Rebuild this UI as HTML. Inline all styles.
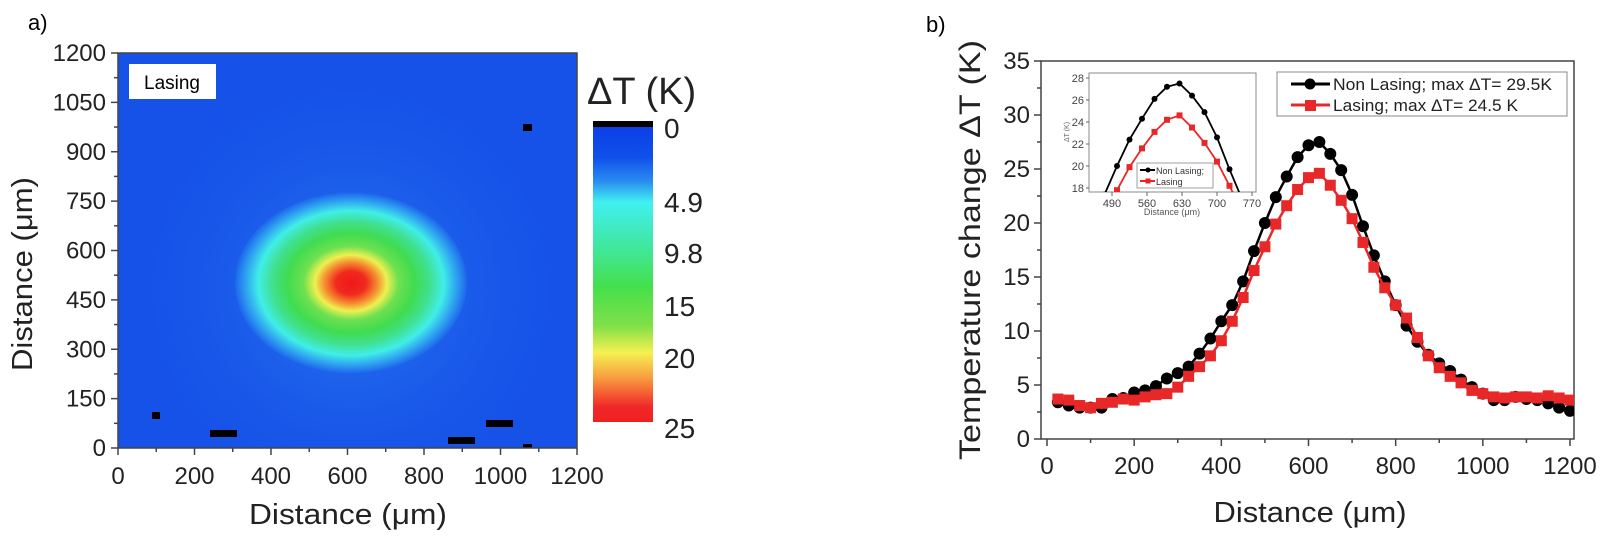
<!DOCTYPE html>
<html><head><meta charset="utf-8">
<style>
html,body{margin:0;padding:0;background:#fff;}
svg{display:block;font-family:"Liberation Sans",Arial,sans-serif;}
</style></head>
<body>
<svg id="s" width="1604" height="537" viewBox="0 0 1604 537" xmlns="http://www.w3.org/2000/svg">
<defs>
<radialGradient id="spot" cx="351" cy="283" r="116" gradientUnits="userSpaceOnUse" gradientTransform="translate(351 283) scale(1 0.78) translate(-351 -283)">
<stop offset="0" stop-color="#f01818"/>
<stop offset="0.13" stop-color="#f02a1e"/>
<stop offset="0.23" stop-color="#f59030"/>
<stop offset="0.31" stop-color="#eef050"/>
<stop offset="0.41" stop-color="#6ee050"/>
<stop offset="0.55" stop-color="#40dc50"/>
<stop offset="0.68" stop-color="#40e090"/>
<stop offset="0.8" stop-color="#40eee8"/>
<stop offset="0.9" stop-color="#30a8f0"/>
<stop offset="1" stop-color="#1e66ec"/>
<stop offset="1" stop-color="#1e66ec" stop-opacity="0"/>
</radialGradient>
<radialGradient id="halo" cx="351" cy="290" r="230" gradientUnits="userSpaceOnUse">
<stop offset="0" stop-color="#2a7cf0"/>
<stop offset="1" stop-color="#1650e8" stop-opacity="0"/>
</radialGradient>
<linearGradient id="cb" x1="0" y1="0" x2="0" y2="1">
<stop offset="0" stop-color="#0a3ce6"/>
<stop offset="0.12" stop-color="#1050ea"/>
<stop offset="0.2" stop-color="#2a8cf0"/>
<stop offset="0.27" stop-color="#40f0f0"/>
<stop offset="0.4" stop-color="#40e8a8"/>
<stop offset="0.55" stop-color="#44e04c"/>
<stop offset="0.68" stop-color="#80e048"/>
<stop offset="0.77" stop-color="#f5f050"/>
<stop offset="0.85" stop-color="#f8a040"/>
<stop offset="0.95" stop-color="#f02828"/>
<stop offset="1" stop-color="#f02020"/>
</linearGradient>
<clipPath id="inclip"><rect x="1089" y="73" width="167" height="119"/></clipPath>
<clipPath id="mainclip"><rect x="1041" y="61" width="533" height="378"/></clipPath>
</defs>

<text x="28" y="30" font-size="22">a)</text>
<rect x="118" y="53" width="459" height="395" fill="#1652e8"/>
<rect x="118" y="53" width="459" height="395" fill="url(#halo)"/>
<ellipse cx="351" cy="283" rx="116" ry="91" fill="url(#spot)"/>
<g fill="#000">
<rect x="152" y="412" width="8" height="7"/>
<rect x="210" y="430" width="27" height="7"/>
<rect x="523" y="124" width="9" height="7"/>
<rect x="486" y="420" width="27" height="7"/>
<rect x="448" y="437" width="27" height="7"/>
<rect x="523" y="444" width="9" height="4"/>
</g>
<rect x="118" y="53" width="459" height="395" fill="none" stroke="#444" stroke-width="1.5"/>
<rect x="129" y="64" width="87" height="35" fill="#fff"/>
<text x="172" y="89" font-size="19" text-anchor="middle">Lasing</text>
<g id="axa" stroke="#444" stroke-width="1.5"></g>
<g id="axal" font-size="24" fill="#222"></g>
<text transform="translate(32,274) rotate(-90)" font-size="29" text-anchor="middle" textLength="194" lengthAdjust="spacingAndGlyphs" fill="#222">Distance (μm)</text>
<text x="348" y="524" font-size="29" text-anchor="middle" textLength="198" lengthAdjust="spacingAndGlyphs" fill="#222">Distance (μm)</text>
<text x="587" y="104" font-size="38" fill="#222">ΔT (K)</text>
<rect x="593" y="121" width="60" height="301" fill="url(#cb)"/>
<rect x="593" y="121" width="60" height="6" fill="#000"/>
<g font-size="28" fill="#222">
<text x="664" y="138">0</text>
<text x="664" y="212">4.9</text>
<text x="664" y="263">9.8</text>
<text x="664" y="316">15</text>
<text x="664" y="368">20</text>
<text x="664" y="438">25</text>
</g>

<text x="926" y="32" font-size="22">b)</text>
<rect x="1041" y="61" width="533" height="378" fill="none" stroke="#444" stroke-width="1.5"/>
<g id="axb" stroke="#444" stroke-width="1.5"></g>
<g id="axbl" font-size="24" fill="#222"></g>
<text transform="translate(980,250) rotate(-90)" font-size="30" text-anchor="middle" textLength="420" lengthAdjust="spacingAndGlyphs" fill="#222">Temperature change ΔT (K)</text>
<text x="1310" y="522" font-size="29" text-anchor="middle" textLength="193" lengthAdjust="spacingAndGlyphs" fill="#222">Distance (μm)</text>
<g id="main" clip-path="url(#mainclip)"></g>

<rect x="1089" y="73" width="167" height="119" fill="#fff" stroke="#888" stroke-width="1"/>
<g id="inset" clip-path="url(#inclip)"></g>
<g id="inax" stroke="#666" stroke-width="1"></g>
<g id="inaxl" font-size="11" fill="#444"></g>
<text transform="translate(1069,132) rotate(-90)" font-size="7" text-anchor="middle" fill="#666">ΔT (K)</text>
<text x="1172" y="215" font-size="9" text-anchor="middle" fill="#555">Distance (μm)</text>
<rect x="1137" y="163" width="76" height="25" fill="#fff" stroke="#888" stroke-width="0.8"/>
<line x1="1140" y1="170" x2="1155" y2="170" stroke="#000" stroke-width="2"/><circle cx="1148" cy="170" r="2.5"/>
<line x1="1140" y1="181" x2="1155" y2="181" stroke="#e22" stroke-width="2"/><rect x="1145.5" y="178.5" width="5" height="5" fill="#e22"/>
<text x="1156" y="174" font-size="9" fill="#333">Non Lasing;</text>
<text x="1156" y="185" font-size="9" fill="#333">Lasing</text>

<rect x="1277" y="72" width="290" height="44" fill="#fff" stroke="#888" stroke-width="1"/>
<line x1="1291" y1="84" x2="1330" y2="84" stroke="#000" stroke-width="3"/><circle cx="1310" cy="84" r="5.5"/>
<line x1="1291" y1="105" x2="1330" y2="105" stroke="#e82828" stroke-width="3"/><rect x="1305" y="100" width="11" height="11" fill="#e82828"/>
<text x="1333" y="90" font-size="17" fill="#222" textLength="219" lengthAdjust="spacingAndGlyphs">Non Lasing;  max ΔT= 29.5K</text>
<text x="1333" y="111" font-size="17" fill="#222" textLength="185" lengthAdjust="spacingAndGlyphs">Lasing;  max ΔT= 24.5 K</text>
</svg>
<script>
const NS="http://www.w3.org/2000/svg";
function el(p,t,a,txt){const e=document.createElementNS(NS,t);for(const k in a)e.setAttribute(k,a[k]);if(txt!==undefined)e.textContent=txt;document.getElementById(p).appendChild(e);return e;}
for(let v=0;v<=1200;v+=100){const x=118+v*459/1200;el("axa","line",{x1:x,y1:448,x2:x,y2:v%200?452:455});if(v%200==0)el("axal","text",{x:x,y:484,"text-anchor":"middle"},v);}
for(let v=0;v<=1200;v+=75){const y=448-v*395/1200;el("axa","line",{x1:118,y1:y,x2:v%150?114:111,y2:y});if(v%150==0)el("axal","text",{x:106,y:y+8,"text-anchor":"end"},v);}
const X=v=>1047+v*0.43583,Y=t=>439-t*10.8;
for(let v=0;v<=1200;v+=100){const x=X(v);el("axb","line",{x1:x,y1:439,x2:x,y2:v%200?443:446});if(v%200==0)el("axbl","text",{x:x,y:474,"text-anchor":"middle"},v);}
for(let t=0;t<=35;t+=2.5){const y=Y(t);el("axb","line",{x1:1041,y1:y,x2:t%5?1037:1034,y2:y});if(t%5==0)el("axbl","text",{x:1030,y:y+8,"text-anchor":"end"},t);}
const xs=[];for(let v=25;v<=1200;v+=25)xs.push(v);
const B={25:3.4,50:3.1,75:2.9,100:2.9,125:2.9,150:3.7,175:3.8,200:4.3,225:4.5,250:4.9,275:5.6,300:6.1,325:6.7,350:7.9,375:9.3,400:10.9,425:12.4,450:14.6,475:17.4,500:20,525:22.4,550:24.3,575:26.1,600:27.2,625:27.5,650:26.4,675:24.9,700:22.6,725:19.7,750:17,775:14.6,800:12.4,825:10.5,850:9,875:7.8,900:7,925:6.3,950:5.5,975:4.8,1000:4.2,1025:3.6,1050:3.6,1075:3.9,1100:3.7,1125:3.6,1150:3.3,1175:2.9,1200:2.6};
const R={25:3.7,50:3.6,75:3.1,100:2.9,125:3.3,150:3.4,175:3.7,200:3.6,225:3.9,250:4.1,275:4.2,300:4.8,325:5.8,350:6.7,375:7.7,400:9.1,425:10.9,450:13.1,475:15.6,500:17.8,525:19.9,550:21.6,575:23.1,600:24.2,625:24.6,650:23.5,675:22.1,700:20.4,725:18.2,750:15.9,775:14,800:12.4,825:11.2,850:9.4,875:7.7,900:6.6,925:5.8,950:5.2,975:4.5,1000:4.2,1025:3.9,1050:3.8,1075:3.9,1100:3.9,1125:3.8,1150:4.0,1175:3.8,1200:3.6};
function series(g,D,col,circle,Xf,Yf,ms,lw){const pts=xs.map(v=>Xf(v).toFixed(1)+","+Yf(D[v]).toFixed(1)).join(" ");el(g,"polyline",{points:pts,fill:"none",stroke:col,"stroke-width":lw});
for(const v of xs){const x=Xf(v),y=Yf(D[v]);if(circle)el(g,"circle",{cx:x,cy:y,r:ms/2,fill:col});else el(g,"rect",{x:x-ms/2,y:y-ms/2,width:ms,height:ms,fill:col});}}
series("main",B,"#000",true,X,Y,12,2.5);
series("main",R,"#e82828",false,X,Y,11,2.5);
const IX=v=>1112+(v-490)*0.5,IY=t=>188-(t-18)*11;
series("inset",B,"#000",true,IX,IY,6,1.8);
series("inset",R,"#e82828",false,IX,IY,6,1.8);
for(let v=490;v<=770;v+=70){const x=IX(v);el("inax","line",{x1:x,y1:192,x2:x,y2:196});el("inaxl","text",{x:x,y:207,"text-anchor":"middle"},v);}
for(let t=18;t<=28;t+=2){const y=IY(t);el("inax","line",{x1:1089,y1:y,x2:1086,y2:y});el("inaxl","text",{x:1084,y:y+4,"text-anchor":"end"},t);}
</script>
</body></html>
